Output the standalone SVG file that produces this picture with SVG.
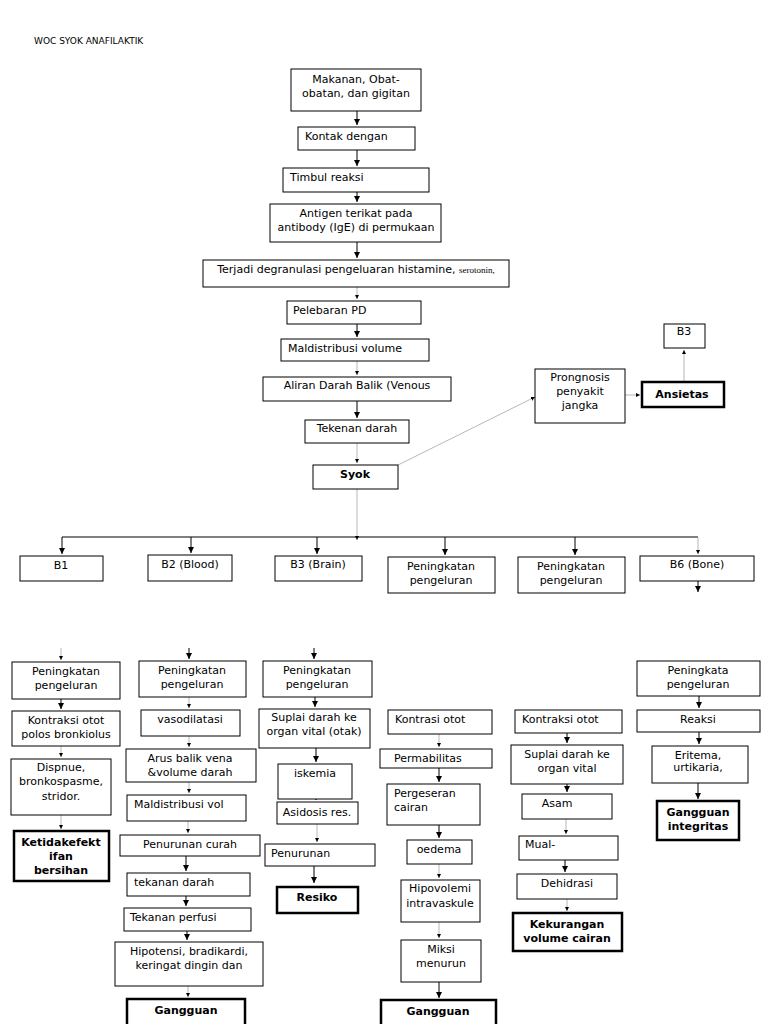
<svg xmlns="http://www.w3.org/2000/svg" width="768" height="1024" viewBox="0 0 768 1024">
<style>
rect{fill:#fff;stroke:#000;stroke-width:1}
rect.b{stroke-width:2.5}
text{font-family:"DejaVu Sans",sans-serif;font-size:11px;fill:#000}
.c{text-anchor:middle}
.bd{font-weight:bold}
.t{font-size:9px}
#connectors path{fill:none;stroke:#000;stroke-width:1;marker-end:url(#a)}
#connectors path.g{stroke:#999;stroke-width:0.7}
#connectors path.n{marker-end:none}
</style>
<defs><marker id="a" viewBox="0 0 10 10" refX="10" refY="5" markerWidth="6" markerHeight="6" orient="auto"><path d="M0,0L10,5L0,10z" fill="#000"/></marker></defs>
<rect x="0" y="0" width="768" height="1024" style="fill:#fff;stroke:none"/>
<text x="34" y="44" class="t">WOC SYOK ANAFILAKTIK</text>
<g id="connectors">
<path d="M357,111V125"/><path d="M357,150V166"/><path d="M357,192V202"/><path d="M357,242V258"/>
<path d="M357,287V299" class="g"/><path d="M357,324V337"/><path d="M357,361V375" class="g"/><path d="M357,401V418"/>
<path d="M357,443V463" class="g"/>
<path d="M398,465L535,397" class="g"/><path d="M625,395H640" class="g"/><path d="M684,382V350" class="g"/>
<path d="M357,489V540" class="g"/>
<path d="M62,537H698" class="n"/>
<path d="M62,537V554"/><path d="M191,537V553"/><path d="M317,537V554"/><path d="M445,537V555"/><path d="M575,537V555"/><path d="M698,537V554" class="g"/>
<path d="M698,581V592"/>
<path d="M61,648V660" class="g"/><path d="M189,648V659"/><path d="M314,648V659"/>
<path d="M61,699V709"/><path d="M61,746V757" class="g"/><path d="M61,815V829" class="g"/>
<path d="M189,697V708" class="g"/><path d="M189,736V747" class="g"/><path d="M189,782V793" class="g"/><path d="M188,821V833" class="g"/><path d="M186,856V871"/><path d="M186,896V906"/><path d="M187,931V940"/><path d="M188,986V997" class="g"/>
<path d="M315,697V707"/><path d="M316,748V762"/><path d="M316,799V800"/><path d="M317,824V842" class="g"/><path d="M314,866V883"/>
<path d="M439,734V747" class="g"/><path d="M439,768V782"/><path d="M439,825V838"/><path d="M439,864V878" class="g"/><path d="M439,922V938" class="g"/><path d="M439,982V998"/>
<path d="M567,733V743"/><path d="M567,784V792"/><path d="M566,819V834" class="g"/><path d="M565,860V872"/><path d="M567,899V911" class="g"/>
<path d="M699,696V708"/><path d="M699,732V744"/><path d="M698,783V799"/>
</g>
<g id="n1"><rect x="291" y="69" width="130" height="42"/><text x="356" y="83" class="c">Makanan, Obat-</text><text x="356" y="97" class="c">obatan, dan gigitan</text></g>
<g id="n2"><rect x="298" y="127" width="117" height="23"/><text x="305" y="140">Kontak dengan</text></g>
<g id="n3"><rect x="283" y="168" width="146" height="24"/><text x="290" y="181">Timbul reaksi</text></g>
<g id="n4"><rect x="270" y="204" width="171" height="38"/><text x="356" y="217" class="c">Antigen terikat pada</text><text x="356" y="231" class="c">antibody (IgE) di permukaan</text></g>
<g id="n5"><rect x="203" y="260" width="306" height="27"/><text x="356" y="273" class="c">Terjadi degranulasi pengeluaran histamine, <tspan style="font-family:'Liberation Serif',serif;font-size:9px">serotonin,</tspan></text></g>
<g id="n6"><rect x="287" y="301" width="134" height="23"/><text x="293" y="314">Pelebaran PD</text></g>
<g id="n7"><rect x="281" y="339" width="148" height="22"/><text x="288" y="352">Maldistribusi volume</text></g>
<g id="n8"><rect x="263" y="377" width="188" height="24"/><text x="357" y="389" class="c">Aliran Darah Balik (Venous</text></g>
<g id="n9"><rect x="305" y="420" width="104" height="23"/><text x="357" y="432" class="c">Tekenan darah</text></g>
<g id="n10"><rect x="313" y="465" width="85" height="24"/><text x="355" y="478" class="c bd">Syok</text></g>
<g id="n11"><rect x="664" y="324" width="41" height="24"/><text x="684" y="335" class="c">B3</text></g>
<g id="n12"><rect x="535" y="369" width="90" height="54"/><text x="580" y="381" class="c">Prongnosis</text><text x="580" y="395" class="c">penyakit</text><text x="580" y="409" class="c">jangka</text></g>
<g id="n13"><rect x="642" y="382" width="82" height="25" class="b"/><text x="682" y="398" class="c bd">Ansietas</text></g>
<g id="n14"><rect x="20" y="556" width="83" height="25"/><text x="61" y="569" class="c">B1</text></g>
<g id="n15"><rect x="148" y="555" width="84" height="26"/><text x="190" y="568" class="c">B2 (Blood)</text></g>
<g id="n16"><rect x="275" y="556" width="87" height="25"/><text x="318" y="568" class="c">B3 (Brain)</text></g>
<g id="n17"><rect x="388" y="557" width="107" height="36"/><text x="441" y="570" class="c">Peningkatan</text><text x="441" y="584" class="c">pengeluran</text></g>
<g id="n18"><rect x="518" y="557" width="107" height="36"/><text x="571" y="570" class="c">Peningkatan</text><text x="571" y="584" class="c">pengeluran</text></g>
<g id="n19"><rect x="640" y="556" width="114" height="25"/><text x="697" y="568" class="c">B6 (Bone)</text></g>
<g id="c1a"><rect x="12" y="662" width="108" height="37"/><text x="66" y="675" class="c">Peningkatan</text><text x="66" y="689" class="c">pengeluran</text></g>
<g id="c1b"><rect x="12" y="711" width="108" height="35"/><text x="66" y="724" class="c">Kontraksi otot</text><text x="66" y="738" class="c">polos bronkiolus</text></g>
<g id="c1c"><rect x="11" y="759" width="100" height="56"/><text x="61" y="771" class="c">Dispnue,</text><text x="61" y="785" class="c">bronkospasme,</text><text x="61" y="800" class="c">stridor.</text></g>
<g id="c1d"><rect x="14" y="831" width="95" height="50" class="b"/><text x="61" y="846" class="c bd">Ketidakefekt</text><text x="61" y="860" class="c bd">ifan</text><text x="61" y="874" class="c bd">bersihan</text></g>
<g id="c2a"><rect x="139" y="661" width="107" height="36"/><text x="192" y="674" class="c">Peningkatan</text><text x="192" y="688" class="c">pengeluran</text></g>
<g id="c2b"><rect x="141" y="710" width="99" height="26"/><text x="190" y="723" class="c">vasodilatasi</text></g>
<g id="c2c"><rect x="126" y="749" width="130" height="33"/><text x="190" y="762" class="c">Arus balik vena</text><text x="190" y="776" class="c">&amp;volume darah</text></g>
<g id="c2d"><rect x="127" y="795" width="119" height="26"/><text x="134" y="808">Maldistribusi vol</text></g>
<g id="c2e"><rect x="120" y="835" width="140" height="21"/><text x="190" y="848" class="c">Penurunan curah</text></g>
<g id="c2f"><rect x="127" y="873" width="123" height="23"/><text x="134" y="886">tekanan darah</text></g>
<g id="c2g"><rect x="124" y="908" width="127" height="23"/><text x="130" y="921">Tekanan perfusi</text></g>
<g id="c2h"><rect x="115" y="942" width="148" height="44"/><text x="189" y="955" class="c">Hipotensi, bradikardi,</text><text x="189" y="969" class="c">keringat dingin dan</text></g>
<g id="c2i"><rect x="127" y="999" width="118" height="30" class="b"/><text x="186" y="1014" class="c bd">Gangguan</text></g>
<g id="c3a"><rect x="263" y="661" width="109" height="36"/><text x="317" y="674" class="c">Peningkatan</text><text x="317" y="688" class="c">pengeluran</text></g>
<g id="c3b"><rect x="259" y="709" width="111" height="39"/><text x="314" y="721" class="c">Suplai darah ke</text><text x="314" y="735" class="c">organ vital (otak)</text></g>
<g id="c3c"><rect x="278" y="764" width="74" height="35"/><text x="315" y="777" class="c">iskemia</text></g>
<g id="c3d"><rect x="277" y="802" width="81" height="22"/><text x="317" y="816" class="c">Asidosis res.</text></g>
<g id="c3e"><rect x="265" y="844" width="110" height="22"/><text x="271" y="857">Penurunan</text></g>
<g id="c3f"><rect x="277" y="887" width="81" height="26" class="b"/><text x="317" y="901" class="c bd">Resiko</text></g>
<g id="c4a"><rect x="388" y="710" width="104" height="24"/><text x="395" y="723">Kontrasi otot</text></g>
<g id="c4b"><rect x="380" y="749" width="112" height="19"/><text x="394" y="762">Permabilitas</text></g>
<g id="c4c"><rect x="387" y="784" width="93" height="41"/><text x="394" y="797">Pergeseran</text><text x="394" y="811">cairan</text></g>
<g id="c4d"><rect x="407" y="840" width="65" height="24"/><text x="439" y="853" class="c">oedema</text></g>
<g id="c4e"><rect x="401" y="880" width="79" height="42"/><text x="440" y="892" class="c">Hipovolemi</text><text x="440" y="907" class="c">intravaskule</text></g>
<g id="c4f"><rect x="401" y="940" width="80" height="42"/><text x="441" y="953" class="c">Miksi</text><text x="441" y="967" class="c">menurun</text></g>
<g id="c4g"><rect x="381" y="1000" width="115" height="30" class="b"/><text x="438" y="1015" class="c bd">Gangguan</text></g>
<g id="c5a"><rect x="515" y="710" width="107" height="23"/><text x="522" y="723">Kontraksi otot</text></g>
<g id="c5b"><rect x="511" y="745" width="112" height="39"/><text x="567" y="758" class="c">Suplai darah ke</text><text x="567" y="772" class="c">organ vital</text></g>
<g id="c5c"><rect x="522" y="794" width="90" height="25"/><text x="557" y="807" class="c">Asam</text></g>
<g id="c5d"><rect x="519" y="836" width="99" height="24"/><text x="525" y="848">Mual-</text></g>
<g id="c5e"><rect x="517" y="874" width="100" height="25"/><text x="567" y="887" class="c">Dehidrasi</text></g>
<g id="c5f"><rect x="513" y="913" width="109" height="38" class="b"/><text x="567" y="928" class="c bd">Kekurangan</text><text x="567" y="942" class="c bd">volume cairan</text></g>
<g id="c6a"><rect x="637" y="661" width="123" height="35"/><text x="698" y="674" class="c">Peningkata</text><text x="698" y="688" class="c">pengeluran</text></g>
<g id="c6b"><rect x="637" y="710" width="123" height="22"/><text x="698" y="723" class="c">Reaksi</text></g>
<g id="c6c"><rect x="652" y="746" width="96" height="37"/><text x="698" y="759" class="c">Eritema,</text><text x="698" y="771" class="c">urtikaria,</text></g>
<g id="c6d"><rect x="657" y="801" width="82" height="39" class="b"/><text x="698" y="816" class="c bd">Gangguan</text><text x="698" y="830" class="c bd">integritas</text></g>
</svg>
